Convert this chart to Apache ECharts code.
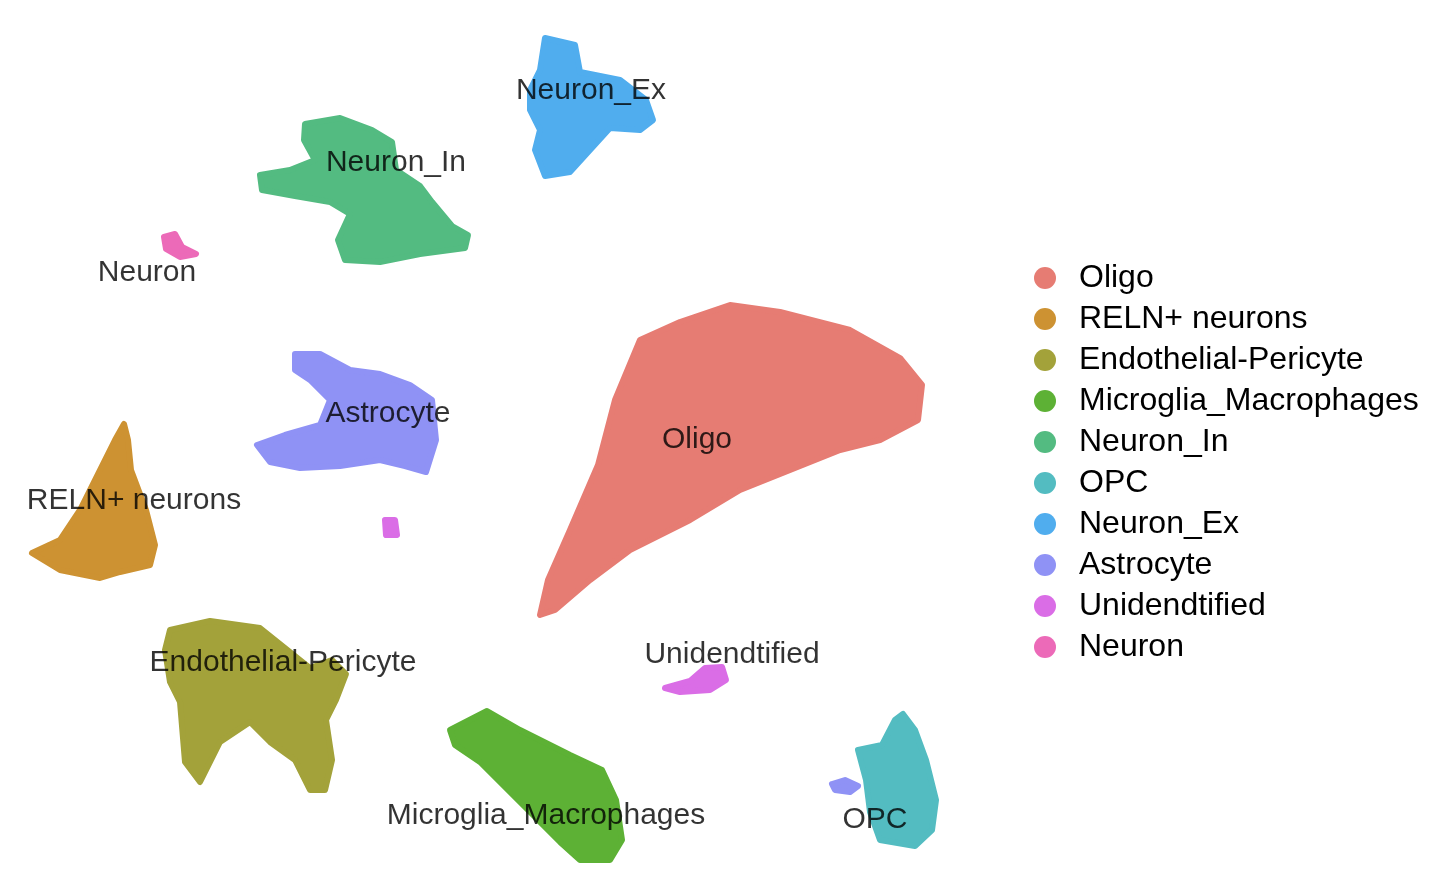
<!DOCTYPE html>
<html><head><meta charset="utf-8">
<script src="https://cdn.jsdelivr.net/npm/echarts@6/dist/echarts.min.js"></script>
<style>html,body{margin:0;background:#fff}#c{width:1430px;height:886px}</style>
</head><body><div id="c"></div>
<script>
// cluster outlines (UMAP coords ~ pixel space)
const clusterNames = ["Oligo","RELN+ neurons","Endothelial-Pericyte","Microglia_Macrophages","Neuron_In","OPC","Neuron_Ex","Astrocyte","Unidendtified","Neuron"];
const colors = ["#E67C73","#CD9232","#A3A23A","#5DB135","#53BB81","#53BCC1","#50ADEE","#8F92F5","#DA6DE6","#EC6AB8"];
const oligo = [[540,615],[548,580],[570,530],[598,465],[615,400],[640,340],[680,322],[730,305],[780,312],[850,330],[900,358],[922,385],[918,420],[880,440],[840,450],[790,470],[740,490],[690,520],[630,550],[590,580],[555,610]];
const reln = [[124,424],[128,440],[131,470],[146,510],[155,545],[150,565],[120,572],[100,578],[60,570],[32,553],[60,540],[80,510],[100,470],[115,440]];
const endo = [[170,630],[210,621],[260,628],[290,652],[310,668],[332,660],[346,674],[336,700],[326,720],[332,760],[325,790],[310,790],[295,760],[270,742],[250,722],[220,742],[200,782],[185,762],[180,702],[170,682],[165,650]];
const micro = [[450,730],[487,711],[520,730],[570,755],[602,770],[616,800],[622,840],[610,860],[580,860],[560,842],[540,822],[510,792],[480,762],[455,745]];
const neuronIn = [[305,124],[340,118],[372,130],[392,142],[396,170],[420,186],[432,202],[452,226],[468,235],[465,248],[420,254],[380,262],[345,260],[338,240],[350,214],[330,202],[295,196],[262,190],[260,175],[290,170],[315,160],[304,140]];
const opc = [[882,745],[895,720],[903,714],[915,730],[926,760],[936,800],[932,830],[915,846],[880,840],[870,812],[866,780],[858,750]];
const neuronEx = [[545,38],[575,45],[580,72],[620,80],[646,100],[653,120],[640,130],[610,128],[590,150],[570,172],[545,176],[535,150],[540,130],[530,110],[530,90],[540,70]];
const astro = [[295,354],[320,354],[350,370],[380,374],[410,385],[432,400],[436,440],[426,472],[405,466],[380,460],[340,466],[300,468],[270,462],[257,445],[285,435],[320,425],[330,400],[310,380],[295,370]];
const unid = [[665,688],[690,681],[705,668],[722,667],[726,680],[710,690],[680,692]];
const neuron = [[164,237],[175,234],[182,247],[196,254],[180,257],[166,249]];
const extraAstroOPC = [[832,784],[845,780],[858,786],[850,792],[835,790]];
const extraUnidAstro = [[385,520],[395,520],[397,535],[386,535]];
const polys = [oligo,reln,endo,micro,neuronIn,opc,neuronEx,astro,unid,neuron];
const labelText = ["Oligo","RELN+ neurons","Endothelial-Pericyte","Microglia_Macrophages","Neuron_In","OPC","Neuron_Ex","Astrocyte","Unidendtified","Neuron"];
const labelPos = [[697,440],[134,501],[283,663],[546,816],[396,163],[875,820],[591,91],[388,414],[732,655],[147,273]];

function polySeries(name, pts, color){
  return {type:'custom', name:name, data:pts, itemStyle:{color:color}, z:2, silent:true,
    renderItem:function(params, api){
      if(params.dataIndex!==0) return null;
      return {type:'polygon', shape:{points:pts.map(p=>api.coord(p))},
        style:{fill:color, stroke:color, lineWidth:6, lineJoin:'round'}};
    }};
}
const series = clusterNames.map((n,i)=>polySeries(n, polys[i], colors[i]));
series.push(polySeries('_a', extraAstroOPC, colors[7]));
series.push(polySeries('_b', extraUnidAstro, colors[8]));
series.push({type:'scatter', symbolSize:0, z:10, silent:true,
  data:labelPos.map((p,i)=>({value:p, name:labelText[i]})),
  label:{show:true, position:'inside', formatter:'{b}', color:'#000', fontSize:30, fontFamily:'Liberation Sans', textBorderWidth:0}});
const chart = echarts.init(document.getElementById('c'));
chart.setOption({
  animation:false,
  grid:{left:0,top:0,width:1000,height:886},
  xAxis:{type:'value',min:0,max:1000,show:false},
  yAxis:{type:'value',min:0,max:886,inverse:true,show:false},
  legend:{data:clusterNames, orient:'vertical', left:1029, top:257, icon:'circle',
    itemWidth:22, itemHeight:22, itemGap:9,
    textStyle:{fontSize:32, fontFamily:'Liberation Sans', color:'#000', padding:[0,0,0,18]}},
  series:series
});
</script></body></html>
